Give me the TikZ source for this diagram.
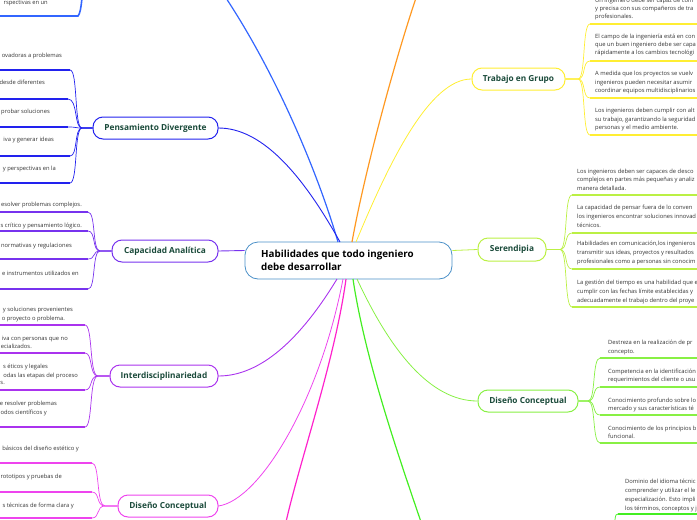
\documentclass[tikz,border=0pt]{standalone}
\usepackage{fontspec}
\setmainfont{Open Sans}
\definecolor{cblue}{HTML}{3366FF}
\definecolor{cdiv}{HTML}{2222EE}
\definecolor{cana}{HTML}{7733EE}
\definecolor{cint}{HTML}{AA33EE}
\definecolor{cdisl}{HTML}{EE44EE}
\definecolor{cmag}{HTML}{FF22CC}
\definecolor{corange}{HTML}{FF9922}
\definecolor{cyel}{HTML}{FFEE33}
\definecolor{clime}{HTML}{BBF044}
\definecolor{cgreen}{HTML}{88F044}
\definecolor{cgreen2}{HTML}{44EE22}
\definecolor{ccen}{HTML}{4A90C8}
\definecolor{ctxt}{HTML}{333333}
\definecolor{clab}{HTML}{1A4A3A}
\tikzset{
 branch/.style={draw=#1,line width=1pt,rounded corners=10pt,fill=white,inner sep=0pt,text=clab,font=\fontsize{8.3}{10}\selectfont\bfseries},
 leaftxt/.style={text=ctxt,font=\fontsize{5.8}{6}\selectfont,inner sep=0pt},
 uline/.style={draw=#1,line width=1.6pt},
 conn/.style={draw=#1,line width=0.7pt},
 trunk/.style={draw=#1,line width=1.2pt}
}
\begin{document}
\begin{tikzpicture}[x=1pt,y=-1pt]
\useasboundingbox (0,0) rectangle (697,520);
\clip (0,0) rectangle (697,520);
% center
\node[draw=ccen,line width=0.8pt,rounded corners=13pt,minimum width=207pt,minimum height=37pt,fill=white,inner sep=0pt] (c) at (348.5,260.5) {};
% trunks
\coordinate (topb) at (226,-2);
\coordinate (topo) at (416,-2);
\coordinate (botm) at (286,522);
\coordinate (botg) at (421,522);
\node[branch=cdiv,minimum width=125pt,minimum height=22pt] (pd) at (155.5,128) {Pensamiento Divergente};
\node[branch=cana,minimum width=106pt,minimum height=22pt] (ca) at (165,251) {Capacidad Analítica};
\node[branch=cint,minimum width=108pt,minimum height=22pt] (in) at (164,376) {Interdisciplinariedad};
\node[branch=cdisl,minimum width=100pt,minimum height=22pt] (dl) at (168,506) {Diseño Conceptual};
\node[branch=cyel,minimum width=93pt,minimum height=22pt] (tg) at (518.5,79) {Trabajo en Grupo};
\node[branch=clime,minimum width=68pt,minimum height=23pt] (se) at (512,249.5) {Serendipia};
\node[branch=cgreen,minimum width=100pt,minimum height=22pt] (dr) at (528,401) {Diseño Conceptual};
\draw[trunk=cblue] (338,242) .. controls (320,180) and (280,80) .. (topb);
\draw[trunk=cdiv,line width=0.9pt] (340,242) .. controls (300,170) and (260,128) .. (pd.east);
\draw[trunk=cana,line width=0.9pt] (c.west) ++(0,-10) -- (ca.east);
\draw[trunk=cint,line width=0.9pt] (337,279) .. controls (300,340) and (260,376) .. (in.east);
\draw[conn=cdisl,line width=0.8pt] (343,279) .. controls (320,400) and (260,500) .. (dl.east);
\draw[trunk=cmag] (346,279) .. controls (335,360) and (300,460) .. (botm);
\draw[trunk=corange] (352,242) .. controls (365,170) and (395,60) .. (topo);
\draw[conn=cyel,line width=0.8pt] (356,242) .. controls (390,160) and (430,79) .. (tg.west);
\draw[conn=clime,line width=0.8pt] (c.east) ++(0,-10) -- (se.west);
\draw[conn=cgreen,line width=0.8pt] (357,279) .. controls (390,350) and (430,401) .. (dr.west);
\draw[trunk=cgreen2] (353,279) .. controls (365,360) and (400,460) .. (botg);
\node[font=\fontsize{9.8}{12.5}\selectfont\bfseries,align=left,text=black,anchor=west,inner sep=0pt] (ct) at (261,260.5) {Habilidades que todo ingeniero\\debe desarrollar};
% left leaves
\draw[uline=cblue] (0,16) -- (78,16) .. controls (82,12) and (82,-10) .. (84,-20);
\node[leaftxt,anchor=base east] (t0) at (48,4) {rspectivas en un};
\foreach \y/\xe in {70/70,99/68,127/68,156/70,183/70}{
  \draw[uline=cdiv] (0,\y) -- (\xe,\y);
  \draw[conn=cdiv] (\xe,\y) .. controls (78,\y) and (74,128) .. (82,128) -- (pd.west);}
\foreach \y/\xe in {212/88,231/88,259/88,289/88}{
  \draw[uline=cana] (0,\y) -- (\xe,\y);
  \draw[conn=cana] (\xe,\y) .. controls (96,\y) and (92,251) .. (100,251) -- (ca.west);}
\foreach \y/\xe in {325/85,353/85,390/85,427/85}{
  \draw[uline=cint] (0,\y) -- (\xe,\y);
  \draw[conn=cint] (\xe,\y) .. controls (93,\y) and (89,376) .. (98,376) -- (in.west);}
\foreach \y/\xe in {463/92,492/92,518/92}{
  \draw[uline=cdisl] (0,\y) -- (\xe,\y);
  \draw[conn=cdisl] (\xe,\y) .. controls (100,\y) and (96,506) .. (105,506) -- (dl.west);}
\foreach \x/\y/\t in {62/57/ovadoras a problemas,45/84/desde diferentes,50/113/probar soluciones,54/141/iva y generar ideas,56/170/y perspectivas en la,
 82/206/esolver problemas complejos.,82/227/s crítico y pensamiento lógico.,72/247/normativas y regulaciones,79/275/e instrumentos utilizados en,
 73/311/y soluciones provenientes,65/320/o proyecto o problema.,68/340/iva con personas que no,32/348/ecializados.,48/368/s éticos y legales,78/377/odas las etapas del proceso,5/384/s.,57/405/e resolver problemas,47/414/odos científicos y,
 79/450/básicos del diseño estético y,62/478/rototipos y pruebas de,74/507/s técnicas de forma clara y}{
  \node[leaftxt,anchor=base east] at (\x,\y) {\t};}
% right leaves
\foreach \y in {24,61,98,135}{
  \draw[uline=cyel] (590,\y) -- (697,\y);
  \draw[conn=cyel] (590,\y) .. controls (582,\y) and (586,79) .. (578,79) -- (tg.east);}
\foreach \y in {195,233,269,307}{
  \draw[uline=clime] (572,\y) -- (697,\y);
  \draw[conn=clime] (572,\y) .. controls (564,\y) and (568,249.5) .. (560,249.5) -- (se.east);}
\foreach \y in {358,387,415,443}{
  \draw[uline=cgreen] (600,\y) -- (697,\y);
  \draw[conn=cgreen] (600,\y) .. controls (592,\y) and (596,401) .. (588,401) -- (dr.east);}
\draw[uline=cgreen2] (618,514) -- (697,514);
\draw[conn=cgreen2] (618,514) .. controls (614,514) and (616,520) .. (614,524);
\foreach \x/\y/\t in {595/2/Un ingeniero debe ser capaz de com,595/10/y precisa con sus compañeros de tra,595/18/profesionales.,
 595/38/El campo de la ingeniería está en con,595/46/que un buen ingeniero debe ser capa,595/54/rápidamente a los cambios tecnológi,
 595/75/A medida que los proyectos se vuelv,595/84/ingenieros pueden necesitar asumir,595/92/coordinar equipos multidisciplinarios,
 595/112/Los ingenieros deben cumplir con alt,595/121/su trabajo{,} garantizando la seguridad,595/129/personas y el medio ambiente.,
 577/173/Los ingenieros deben ser capaces de desco,577/181/complejos en partes más pequeñas y analiz,577/190/manera detallada.,
 577/209/ La capacidad de pensar fuera de lo conven,577/218/los ingenieros encontrar soluciones innovad,577/227/técnicos.,
 577/245/Habilidades en comunicación{,}los ingenieros,577/254/transmitir sus ideas{,} proyectos y resultados,577/263/profesionales como a personas sin conocim,
 577/284/La gestión del tiempo es una habilidad que e,577/293/cumplir con las fechas límite establecidas y,577/302/adecuadamente el trabajo dentro del proye,
 608/344/Destreza en la realización de pr,608/353/concepto.,608/373/Competencia en la identificación,608/381/requerimientos del cliente o usu,
 608/402/Conocimiento profundo sobre lo,608/410/mercado y sus características té,608/430/Conocimiento de los principios b,608/438/funcional.,
 625/483/Dominio del idioma técnic,625/492/comprender y utilizar el le,625/501/especialización. Esto impli,625/510/los términos{,} conceptos y j}{
  \node[leaftxt,anchor=base west] at (\x,\y) {\t};}
\end{tikzpicture}
\end{document}
